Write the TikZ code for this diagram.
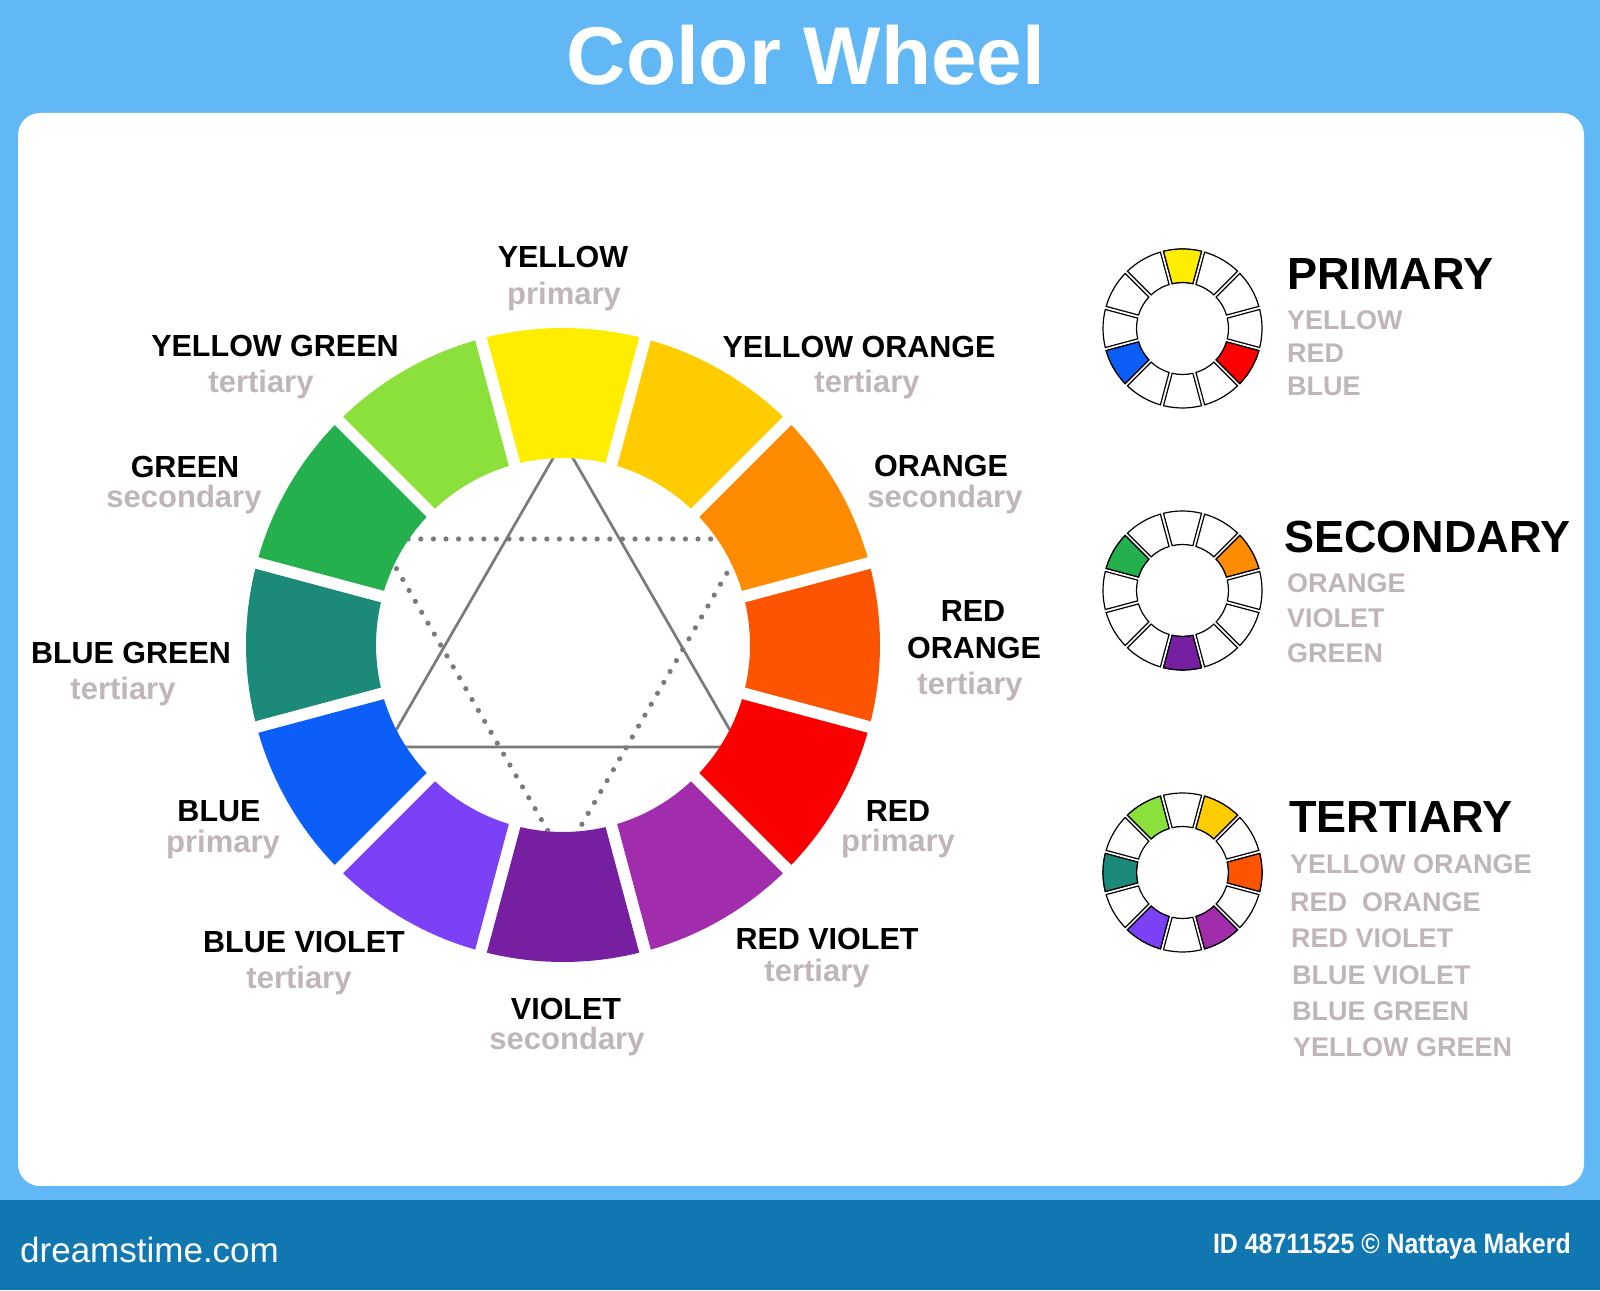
\documentclass[tikz,border=0pt]{standalone}
\usepackage{fontspec}
\usepackage{graphicx}
\setmainfont{Liberation Sans}
\usetikzlibrary{calc}
\definecolor{bandblue}{RGB}{98,184,245}
\definecolor{footblue}{RGB}{16,119,176}
\definecolor{subgray}{RGB}{192,182,184}
\definecolor{lineg}{RGB}{122,122,122}
\definecolor{cY}{RGB}{255,237,0}
\definecolor{cYO}{RGB}{255,204,0}
\definecolor{cO}{RGB}{255,140,0}
\definecolor{cRO}{RGB}{252,84,0}
\definecolor{cR}{RGB}{250,0,0}
\definecolor{cRV}{RGB}{162,45,172}
\definecolor{cV}{RGB}{118,31,160}
\definecolor{cBV}{RGB}{124,64,246}
\definecolor{cB}{RGB}{12,94,248}
\definecolor{cBG}{RGB}{27,138,120}
\definecolor{cG}{RGB}{35,176,77}
\definecolor{cYG}{RGB}{139,224,60}
\tikzset{
  lab/.style={font=\fontsize{30.5}{32}\selectfont\bfseries,anchor=base,inner sep=0pt},
  sub/.style={font=\fontsize{31}{32}\selectfont\bfseries,text=subgray,anchor=base,inner sep=0pt},
  head/.style={font=\fontsize{45}{46}\selectfont\bfseries,anchor=base west,inner sep=0pt},
  item/.style={font=\fontsize{27}{28}\selectfont\bfseries,text=subgray,anchor=base west,inner sep=0pt},
  segline/.style={draw=black,line width=1.2pt,fill=white}
}
% ring piece: #1 style, #2 mid angle, #3 inner r, #4 outer r, #5 half gap
\newcommand*{\ringseg}[5]{%
  \pgfmathsetmacro\ango{15-asin(#5/#4)}%
  \pgfmathsetmacro\angi{15-asin(#5/#3)}%
  \path[#1] (#2-\ango:#4) arc[start angle=#2-\ango,end angle=#2+\ango,radius=#4pt]
    -- (#2+\angi:#3) arc[start angle=#2+\angi,end angle=#2-\angi,radius=#3pt] -- cycle;}

\begin{document}
\begin{tikzpicture}[x=1pt,y=1pt]
\useasboundingbox (0,0) rectangle (1600,1290);
\fill[bandblue] (0,90) rectangle (1600,1290);
\fill[footblue] (0,0) rectangle (1600,90);
\fill[white,rounded corners=22pt] (18,104) rectangle (1584,1177);
\node[font=\fontsize{82}{84}\selectfont\bfseries,text=white,anchor=base,inner sep=0pt] (T) at (806,1205) {Color Wheel};

% big wheel
\begin{scope}[shift={(563,645)}]
  \begin{scope}
    \clip (0,0) circle[radius=187pt];
    \draw[lineg,line width=2.7pt] (90:204) -- (210:204) -- (330:204) -- cycle;
    \draw[lineg,line width=5.2pt,line cap=round,dash pattern=on 0pt off 12.6pt] (270:212) -- (30:212) -- (150:212) -- cycle;
  \end{scope}
  \foreach \a/\c in {90/cY,60/cYO,30/cO,0/cRO,-30/cR,-60/cRV,-90/cV,-120/cBV,-150/cB,180/cBG,150/cG,120/cYG}
    {\ringseg{fill=\c}{\a}{187}{317}{6}}
\end{scope}

\node[lab] (Y) at (563,1022) {YELLOW};
\node[sub] (Ys) at (564,985) {primary};
\node[lab] (YG) at (275,933) {YELLOW GREEN};
\node[sub] (YGs) at (261,897) {tertiary};
\node[lab] (G) at (185,812) {GREEN};
\node[sub] (Gs) at (184,782) {secondary};
\node[lab] (BG) at (131,626) {BLUE GREEN};
\node[sub] (BGs) at (123,590) {tertiary};
\node[lab] (B) at (219,468) {BLUE};
\node[sub] (Bs) at (223,437) {primary};
\node[lab] (BV) at (304,337) {BLUE VIOLET};
\node[sub] (BVs) at (299,301) {tertiary};
\node[lab] (V) at (566,270) {VIOLET};
\node[sub] (Vs) at (567,240) {secondary};
\node[lab] (RV) at (827,340) {RED VIOLET};
\node[sub] (RVs) at (817,308) {tertiary};
\node[lab] (R) at (898,468) {RED};
\node[sub] (Rs) at (898,438) {primary};
\node[lab] (RO1) at (973,668) {RED};
\node[lab] (RO2) at (974,631) {ORANGE};
\node[sub] (ROs) at (970,595) {tertiary};
\node[lab] (O) at (941,813) {ORANGE};
\node[sub] (Os) at (945,782) {secondary};
\node[lab] (YO) at (859,932) {YELLOW ORANGE};
\node[sub] (YOs) at (867,897) {tertiary};

% small wheels
\begin{scope}[shift={(1182.5,961.5)}]
  \foreach \a in {0,30,...,330} {\ringseg{segline}{\a}{46}{79.5}{1.6}}
  \foreach \a/\c in {90/cY,-30/cR,210/cB} {\ringseg{segline,fill=\c}{\a}{46}{79.5}{1.6}}
\end{scope}
\begin{scope}[shift={(1182.5,699.5)}]
  \foreach \a in {0,30,...,330} {\ringseg{segline}{\a}{46}{79.5}{1.6}}
  \foreach \a/\c in {30/cO,270/cV,150/cG} {\ringseg{segline,fill=\c}{\a}{46}{79.5}{1.6}}
\end{scope}
\begin{scope}[shift={(1182.5,417.5)}]
  \foreach \a in {0,30,...,330} {\ringseg{segline}{\a}{46}{79.5}{1.6}}
  \foreach \a/\c in {120/cYG,60/cYO,0/cRO,-60/cRV,240/cBV,180/cBG} {\ringseg{segline,fill=\c}{\a}{46}{79.5}{1.6}}
\end{scope}

\node[head] (P) at (1287,1000) {PRIMARY};
\node[item] (P1) at (1287,960) {YELLOW};
\node[item] (P2) at (1287,927) {RED};
\node[item] (P3) at (1287,894) {BLUE};
\node[head] (S) at (1284,737) {SECONDARY};
\node[item] (S1) at (1287,697) {ORANGE};
\node[item] (S2) at (1287,662) {VIOLET};
\node[item] (S3) at (1287,627) {GREEN};
\node[head] (Q) at (1289,457) {TERTIARY};
\node[item] (Q1) at (1290,416) {YELLOW ORANGE};
\node[item] (Q2) at (1290,378) {RED\ \ ORANGE};
\node[item] (Q3) at (1291,342) {RED VIOLET};
\node[item] (Q4) at (1292,305) {BLUE VIOLET};
\node[item] (Q5) at (1292,269) {BLUE GREEN};
\node[item] (Q6) at (1293,233) {YELLOW GREEN};

% footer
\node[font=\fontsize{35}{36}\selectfont,text=white,anchor=base west,inner sep=0pt] (D) at (20,28) {dreamstime.com};
\node[font=\fontsize{28}{30}\selectfont\bfseries,text=white,anchor=base east,inner sep=0pt] (ID) at (1571,37) {\scalebox{0.89}[1]{ID 48711525 © Nattaya Makerd}};
\end{tikzpicture}
\end{document}
